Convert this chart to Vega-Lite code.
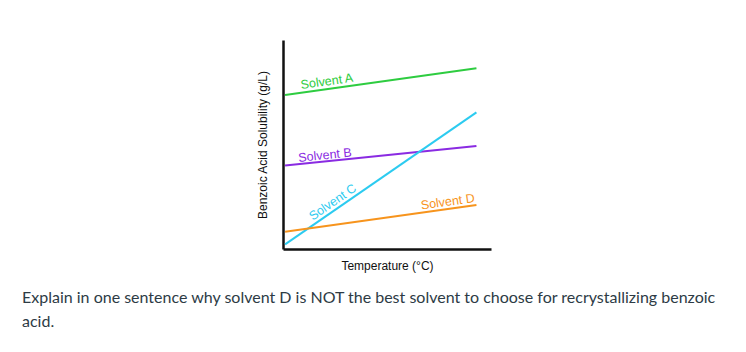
{
  "$schema": "https://vega.github.io/schema/vega-lite/v6.json",
  "width": 208,
  "height": 209,
  "autosize": {"type": "none"},
  "padding": {"left": 283, "top": 40, "right": 255, "bottom": 103},
  "background": "white",
  "title": {
    "text": ["Explain in one sentence why solvent D is NOT the best solvent to choose for recrystallizing benzoic", "acid."],
    "orient": "bottom",
    "anchor": "start",
    "frame": "group",
    "dx": -261,
    "offset": 19,
    "font": "Lato",
    "fontSize": 16,
    "fontWeight": "normal",
    "color": "#2d3b45",
    "lineHeight": 24
  },
  "datasets": {
    "lines": [
      {"solvent": "Solvent A", "temperature": 1, "solubility": 73.7},
      {"solvent": "Solvent A", "temperature": 93, "solubility": 86.5},
      {"solvent": "Solvent B", "temperature": 1, "solubility": 39.9},
      {"solvent": "Solvent B", "temperature": 93, "solubility": 49.3},
      {"solvent": "Solvent C", "temperature": 1, "solubility": 2.2},
      {"solvent": "Solvent C", "temperature": 93, "solubility": 65.4},
      {"solvent": "Solvent D", "temperature": 1, "solubility": 8.3},
      {"solvent": "Solvent D", "temperature": 93, "solubility": 21.1}
    ],
    "labels": [
      {"solvent": "Solvent A", "temperature": 21.1, "solubility": 80.2},
      {"solvent": "Solvent B", "temperature": 20.2, "solubility": 44.9},
      {"solvent": "Solvent C", "temperature": 23.9, "solubility": 22.4},
      {"solvent": "Solvent D", "temperature": 79.2, "solubility": 22.6}
    ]
  },
  "encoding": {
    "x": {
      "field": "temperature",
      "type": "quantitative",
      "scale": {"domain": [0, 100], "nice": false, "zero": false},
      "axis": {
        "title": "Temperature (°C)",
        "labels": false,
        "ticks": false,
        "grid": false,
        "domainColor": "#111111",
        "domainWidth": 2.5,
        "titleFont": "Liberation Sans",
        "titleFontSize": 12,
        "titleFontWeight": "normal",
        "titleColor": "#111111",
        "titlePadding": 11
      }
    },
    "y": {
      "field": "solubility",
      "type": "quantitative",
      "scale": {"domain": [0, 100], "nice": false},
      "axis": {
        "title": "Benzoic Acid Solubility (g/L)",
        "labels": false,
        "ticks": false,
        "grid": false,
        "domainColor": "#111111",
        "domainWidth": 2.5,
        "titleFont": "Liberation Sans",
        "titleFontSize": 12,
        "titleFontWeight": "normal",
        "titleColor": "#111111",
        "titlePadding": 14
      }
    },
    "color": {
      "field": "solvent",
      "type": "nominal",
      "scale": {
        "domain": ["Solvent A", "Solvent B", "Solvent C", "Solvent D"],
        "range": ["#2ecc40", "#8a2be2", "#2ccbf0", "#f7941d"]
      },
      "legend": null
    }
  },
  "layer": [
    {
      "data": {"name": "lines"},
      "mark": {"type": "line", "strokeWidth": 2}
    },
    {
      "data": {"name": "labels"},
      "transform": [{"filter": "datum.solvent === 'Solvent A' || datum.solvent === 'Solvent D'"}],
      "mark": {"type": "text", "font": "Liberation Sans", "fontSize": 12.5, "angle": -7.9, "align": "center", "baseline": "middle"},
      "encoding": {"text": {"field": "solvent"}}
    },
    {
      "data": {"name": "labels"},
      "transform": [{"filter": "datum.solvent === 'Solvent B'"}],
      "mark": {"type": "text", "font": "Liberation Sans", "fontSize": 12.5, "angle": -5.9, "align": "center", "baseline": "middle"},
      "encoding": {"text": {"field": "solvent"}}
    },
    {
      "data": {"name": "labels"},
      "transform": [{"filter": "datum.solvent === 'Solvent C'"}],
      "mark": {"type": "text", "font": "Liberation Sans", "fontSize": 12.5, "angle": -34.5, "align": "center", "baseline": "middle"},
      "encoding": {"text": {"field": "solvent"}}
    }
  ],
  "config": {"view": {"stroke": null}}
}
